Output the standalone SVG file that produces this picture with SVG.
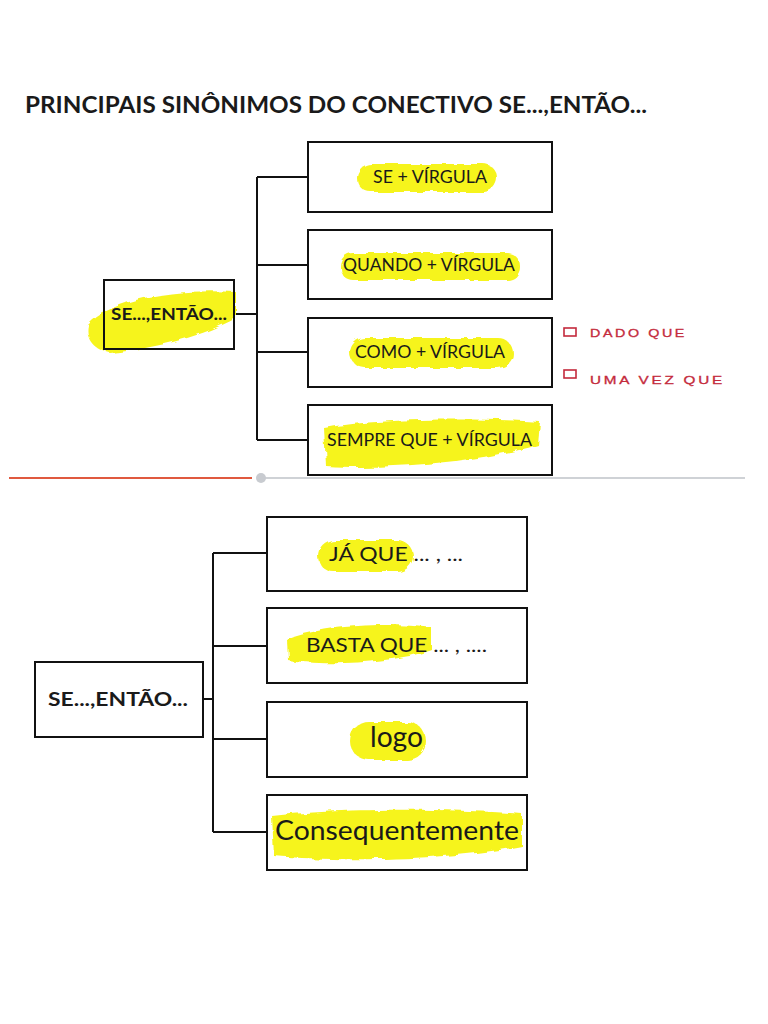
<svg xmlns="http://www.w3.org/2000/svg" width="768" height="1024" viewBox="0 0 768 1024">
<defs>
<filter id="rough" x="-10%" y="-30%" width="120%" height="160%">
<feTurbulence type="fractalNoise" baseFrequency="0.08" numOctaves="2" seed="3"/>
<feDisplacementMap in="SourceGraphic" scale="6"/>
</filter>
</defs>
<style>
.box{fill:none;stroke:#111;stroke-width:2}
.con{fill:none;stroke:#111;stroke-width:2}
.hl{fill:#f6f41c;filter:url(#rough)}
.t{font-family:Lato,"Open Sans","Liberation Sans",sans-serif;fill:#1a1a1a;text-anchor:start}
.b{font-weight:bold}
.red{font-family:"Liberation Sans",sans-serif;fill:#c42a3c;font-size:11px;letter-spacing:2px;stroke:#c42a3c;stroke-width:0.3}
.sq{fill:none;stroke:#c42a3c;stroke-width:1.6}
</style>
<rect width="768" height="1024" fill="#fff"/>
<text class="t b" x="25" y="113" font-size="23.5" textLength="622" lengthAdjust="spacingAndGlyphs">PRINCIPAIS SINÔNIMOS DO CONECTIVO SE...,ENTÃO...</text>

<g id="connectors">
<path class="con" d="M234 314H257M257 177V440M257 177H308M257 265H308M257 352H308M257 440H308"/>
<path class="con" d="M203 699H213M213 553V832M213 553H267M213 646H267M213 739H267M213 832H267"/>
</g>

<g id="top-center">
<path class="hl" d="M88 325 C110 300 170 288 236 292 L236 318 C205 335 160 348 110 353 C95 350 85 340 88 325Z"/>
<rect class="box" x="104" y="280" width="130" height="69"/>
<text class="t b" x="111" y="320" font-size="17" textLength="116" lengthAdjust="spacingAndGlyphs">SE...,ENTÃO...</text>
</g>
<g id="top-1">
<rect class="hl" x="357" y="164" width="140" height="28" rx="14"/>
<rect class="box" x="308" y="142" width="244" height="70"/>
<text class="t" x="373" y="183" font-size="17" textLength="114" lengthAdjust="spacingAndGlyphs">SE + VÍRGULA</text>
</g>
<g id="top-2">
<rect class="hl" x="340" y="253" width="180" height="27" rx="13"/>
<rect class="box" x="308" y="230" width="244" height="69"/>
<text class="t" x="343" y="271" font-size="17" textLength="172" lengthAdjust="spacingAndGlyphs">QUANDO + VÍRGULA</text>
</g>
<g id="top-3">
<rect class="hl" x="350" y="338" width="163" height="30" rx="15"/>
<rect class="box" x="308" y="318" width="244" height="69"/>
<text class="t" x="355" y="358" font-size="17" textLength="150" lengthAdjust="spacingAndGlyphs">COMO + VÍRGULA</text>
</g>
<g id="top-4">
<path class="hl" d="M324 428 C380 418 480 418 540 422 L538 445 C480 462 390 470 326 466Z"/>
<rect class="box" x="308" y="405" width="244" height="70"/>
<text class="t" x="327" y="446" font-size="17" textLength="205" lengthAdjust="spacingAndGlyphs">SEMPRE QUE + VÍRGULA</text>
</g>

<g id="notes">
<rect class="sq" x="564" y="328" width="12" height="8"/>
<text class="red" x="590" y="337" textLength="97" lengthAdjust="spacingAndGlyphs">DADO QUE</text>
<rect class="sq" x="564" y="370" width="12" height="8"/>
<text class="red" x="590" y="384" textLength="135" lengthAdjust="spacingAndGlyphs">UMA VEZ QUE</text>
</g>

<g id="divider">
<line x1="9" y1="478" x2="252" y2="478" stroke="#e0593f" stroke-width="2"/>
<line x1="260" y1="478" x2="745" y2="478" stroke="#cfd2d6" stroke-width="2"/>
<circle cx="261" cy="478" r="5" fill="#c8cbd0"/>
</g>

<g id="bottom-center">
<rect class="box" x="35" y="662" width="168" height="75"/>
<text class="t b" x="48" y="706" font-size="19" textLength="140" lengthAdjust="spacingAndGlyphs">SE...,ENTÃO...</text>
</g>
<g id="bottom-1">
<rect class="hl" x="318" y="540" width="95" height="32" rx="16"/>
<rect class="box" x="267" y="517" width="260" height="74"/>
<text class="t" x="329" y="561" font-size="20" textLength="134" lengthAdjust="spacingAndGlyphs">JÁ QUE ... , ...</text>
</g>
<g id="bottom-2">
<path class="hl" d="M287 640 C320 625 390 622 432 628 L432 650 C390 664 320 666 288 660Z"/>
<rect class="box" x="267" y="608" width="260" height="75"/>
<text class="t" x="306" y="652" font-size="20" textLength="181" lengthAdjust="spacingAndGlyphs">BASTA QUE ... , ....</text>
</g>
<g id="bottom-3">
<rect class="hl" x="350" y="722" width="76" height="38" rx="19"/>
<rect class="box" x="267" y="702" width="260" height="75"/>
<text class="t" x="370" y="747" font-size="28" textLength="53" lengthAdjust="spacingAndGlyphs">logo</text>
</g>
<g id="bottom-4">
<path class="hl" d="M272 816 C340 808 450 808 522 814 L522 846 C450 860 340 862 274 856Z"/>
<rect class="box" x="267" y="795" width="260" height="75"/>
<text class="t" x="275" y="840" font-size="26" textLength="244" lengthAdjust="spacingAndGlyphs">Consequentemente</text>
</g>
</svg>
